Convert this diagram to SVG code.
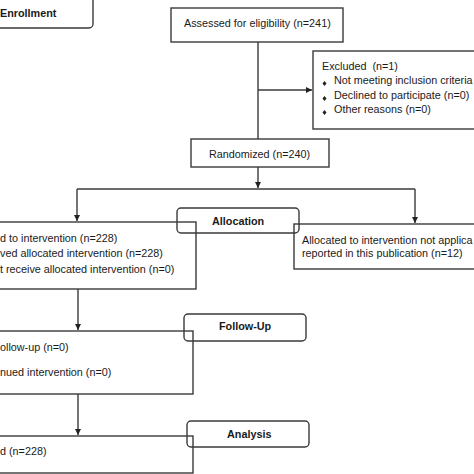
<svg xmlns="http://www.w3.org/2000/svg" width="474" height="474" viewBox="0 0 474 474">
<style>
.box{fill:none;stroke:#3a3a3a;stroke-width:1.4}
.t{font-family:"Liberation Sans",Arial,sans-serif;font-size:10.8px;fill:#1a1a1a;white-space:pre}
.b{font-weight:bold}
.ln{fill:none;stroke:#3a3a3a;stroke-width:1.4}
</style>
<defs>
<marker id="ah" viewBox="0 0 8 8" refX="8" refY="4" markerWidth="6" markerHeight="6" orient="auto" markerUnits="userSpaceOnUse">
<path d="M0,0 L8,4 L0,8 Z" fill="#222"/>
</marker>
</defs>
<rect width="474" height="474" fill="#fff"/>
<g id="connectors">
<line class="ln" x1="258" y1="42" x2="258" y2="139"/>
<line class="ln" x1="258" y1="90" x2="312" y2="90" marker-end="url(#ah)"/>
<line class="ln" x1="258" y1="167" x2="258" y2="188" marker-end="url(#ah)"/>
<polyline class="ln" points="77,189 415,189"/>
<line class="ln" x1="77" y1="189" x2="77" y2="221" marker-end="url(#ah)"/>
<line class="ln" x1="415" y1="189" x2="415" y2="223" marker-end="url(#ah)"/>
<line class="ln" x1="78" y1="289" x2="78" y2="330" marker-end="url(#ah)"/>
<line class="ln" x1="78" y1="394" x2="78" y2="435" marker-end="url(#ah)"/>
</g>
<g id="enrollment">
<rect class="box" x="-10" y="-3" width="103" height="31" rx="4"/>
<text class="t b" x="0" y="17">Enrollment</text>
</g>
<g id="assessed">
<rect class="box" x="171" y="8" width="172" height="34"/>
<text class="t" x="184" y="27">Assessed for eligibility (n=241)</text>
</g>
<g id="excluded">
<rect class="box" x="313" y="51" width="170" height="78"/>
<text class="t" x="322" y="70">Excluded  (n=1)</text>
<polygon points="324.5,81 326.5,83.5 324.5,86 322.5,83.5" fill="#222"/>
<text class="t" x="334" y="84">Not meeting inclusion criteria</text>
<polygon points="324.5,96 326.5,98.5 324.5,101 322.5,98.5" fill="#222"/>
<text class="t" x="334" y="99">Declined to participate (n=0)</text>
<polygon points="324.5,110 326.5,112.5 324.5,115 322.5,112.5" fill="#222"/>
<text class="t" x="334" y="113">Other reasons (n=0)</text>
</g>
<g id="randomized">
<rect class="box" x="191" y="139" width="138" height="28"/>
<text class="t" x="209" y="158">Randomized (n=240)</text>
</g>
<g id="allocation">
<rect class="box" x="177" y="208" width="122" height="25" rx="4"/>
<text class="t b" x="212" y="225">Allocation</text>
</g>
<g id="allocated-left">
<rect class="box" x="-10" y="222" width="206" height="67"/>
<text class="t" x="0" y="242">d to intervention (n=228)</text>
<text class="t" x="0" y="257">ved allocated intervention (n=228)</text>
<text class="t" x="0" y="273">t receive allocated intervention (n=0)</text>
</g>
<g id="allocated-right">
<rect class="box" x="294" y="224" width="190" height="45"/>
<text class="t" x="302" y="244">Allocated to intervention not applica</text>
<text class="t" x="302" y="257">reported in this publication (n=12)</text>
</g>
<g id="followup">
<rect class="box" x="184" y="314" width="122" height="27" rx="4"/>
<text class="t b" x="219" y="330">Follow-Up</text>
</g>
<g id="followup-left">
<rect class="box" x="-10" y="331" width="203" height="63"/>
<text class="t" x="0" y="351">ollow-up (n=0)</text>
<text class="t" x="0" y="376">nued intervention (n=0)</text>
</g>
<g id="analysis">
<rect class="box" x="187" y="421" width="122" height="26" rx="4"/>
<text class="t b" x="227" y="438">Analysis</text>
</g>
<g id="analysis-left">
<rect class="box" x="-10" y="436" width="203" height="37"/>
<text class="t" x="0" y="455">d (n=228)</text>
</g>
</svg>
